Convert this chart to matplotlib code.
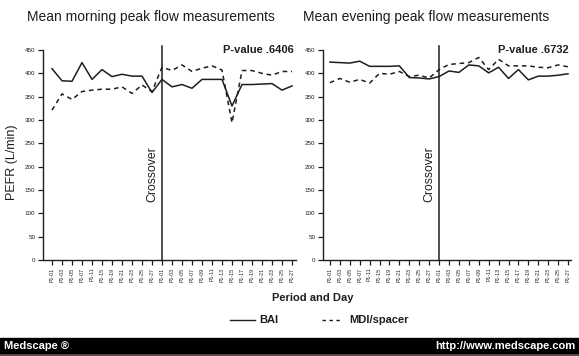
import numpy as np
import matplotlib
matplotlib.use("Agg")
import matplotlib.pyplot as plt
from matplotlib.patches import Rectangle

plt.rcParams['font.family'] = ['Liberation Sans', 'DejaVu Sans']

# tick labels: period 1 days before crossover, then after
days_pre = ["P1-01", "P1-03", "P1-05", "P1-07", "P1-11", "P1-15",
            "P1-19", "P1-21", "P1-23", "P1-25", "P1-27"]
days_post = ["P1-01", "P1-03", "P1-05", "P1-07", "P1-09", "P1-11", "P1-13",
             "P1-15", "P1-17", "P1-19", "P1-21", "P1-23", "P1-25", "P1-27"]
tick_labels = days_pre + days_post
crossover_idx = len(days_pre)

# morning PEFR (L/min)
morning_bai = [410, 384, 383, 423, 387, 408, 393, 398, 394, 394, 359,
               387, 371, 376, 368, 387, 387, 387, 330, 376, 376, 377, 378, 364, 373]
morning_mdi = [321, 356, 344, 361, 364, 366, 366, 371, 357, 375, 361,
               413, 406, 418, 404, 411, 416, 407, 294, 406, 406, 400, 396, 404, 404]
# evening PEFR (L/min)
evening_bai = [424, 423, 422, 426, 415, 415, 415, 416, 391, 390, 388,
               393, 405, 402, 418, 416, 401, 413, 389, 408, 386, 394, 394, 396, 399]
evening_mdi = [380, 389, 381, 387, 379, 400, 398, 404, 393, 396, 390,
               408, 419, 421, 423, 434, 408, 430, 416, 416, 416, 413, 412, 418, 414]

p_morning = "P-value .6406"
p_evening = "P-value .6732"

ink = "#1e1e1e"
W, H = 579, 356
fig = plt.figure(figsize=(5.79, 3.56), dpi=100)
fig.patch.set_facecolor("white")

ax1 = fig.add_axes([43 / W, 96 / H, 253 / W, 210 / H])
ax2 = fig.add_axes([323 / W, 96 / H, 248 / W, 210 / H])


def draw_panel(ax, bai, mdi, ptext, xlim):
    x = np.arange(len(tick_labels))
    ax.plot(x, bai, color=ink, lw=1.1, ls="-")
    ax.plot(x, mdi, color=ink, lw=1.1, ls=(0, (3, 2.5)))
    ax.axvline(crossover_idx, color=ink, lw=1.1, ymax=1.02, clip_on=False)
    ax.set_xlim(*xlim)
    ax.set_ylim(0, 450)
    ax.set_yticks(np.arange(0, 451, 50))
    ax.set_yticklabels([str(v) for v in range(0, 451, 50)], fontsize=4.5, color=ink)
    ax.set_xticks(x)
    ax.set_xticklabels(tick_labels, rotation=90, fontsize=3.8, color=ink)
    ax.tick_params(axis="both", direction="out", length=3.5, width=0.9, colors=ink, pad=2)
    for side in ("top", "right"):
        ax.spines[side].set_visible(False)
    for side in ("left", "bottom"):
        ax.spines[side].set_color(ink)
        ax.spines[side].set_linewidth(1.0)
    ax.text(crossover_idx - 0.35, 183, "Crossover", rotation=90, ha="right", va="center",
            fontsize=8.8, color=ink)
    ax.text(0.99, 1.0, ptext, transform=ax.transAxes, ha="right", va="center",
            fontsize=8, fontweight="bold", color=ink)


draw_panel(ax1, morning_bai, morning_mdi, p_morning, (-0.9, 24.4))
draw_panel(ax2, evening_bai, evening_mdi, p_evening, (-0.7, 24.3))

fig.text(151 / W, 1 - 17 / H, "Mean morning peak flow measurements", ha="center",
         va="center", fontsize=10, color=ink)
fig.text(426 / W, 1 - 17 / H, "Mean evening peak flow measurements", ha="center",
         va="center", fontsize=10, color=ink)

fig.text(12 / W, 1 - 162 / H, "PEFR (L/min)", rotation=90, ha="center", va="center",
         fontsize=9, color=ink)

fig.text(313 / W, 1 - 298 / H, "Period and Day", ha="center", va="center",
         fontsize=8, fontweight="bold", color=ink)

# legend
fig.lines.append(plt.Line2D([230 / W, 255 / W], [1 - 320 / H] * 2,
                            transform=fig.transFigure, color=ink, lw=1.0))
fig.text(259 / W, 1 - 320 / H, "BAI", ha="left", va="center",
         fontsize=8, fontweight="bold", color=ink)
fig.lines.append(plt.Line2D([322 / W, 340 / W], [1 - 320 / H] * 2,
                            transform=fig.transFigure, color=ink, lw=1.0,
                            ls=(0, (2.5, 2.5))))
fig.text(349 / W, 1 - 320 / H, "MDI/spacer", ha="left", va="center",
         fontsize=8, fontweight="bold", color=ink)

# footer bar
fig.patches.append(Rectangle((0, 0), 1, 3 / H, transform=fig.transFigure,
                             color="#555555", zorder=0))
fig.patches.append(Rectangle((0, 3 / H), 1, 15 / H, transform=fig.transFigure,
                             color="black", zorder=0))
fig.text(4 / W, 1 - 346 / H, "Medscape \u00ae", ha="left", va="center",
         fontsize=8, fontweight="bold", color="white")
fig.text(575 / W, 1 - 346 / H, "http://www.medscape.com", ha="right", va="center",
         fontsize=8, fontweight="bold", color="white")

fig.savefig("out.png", dpi=100, facecolor="white")
